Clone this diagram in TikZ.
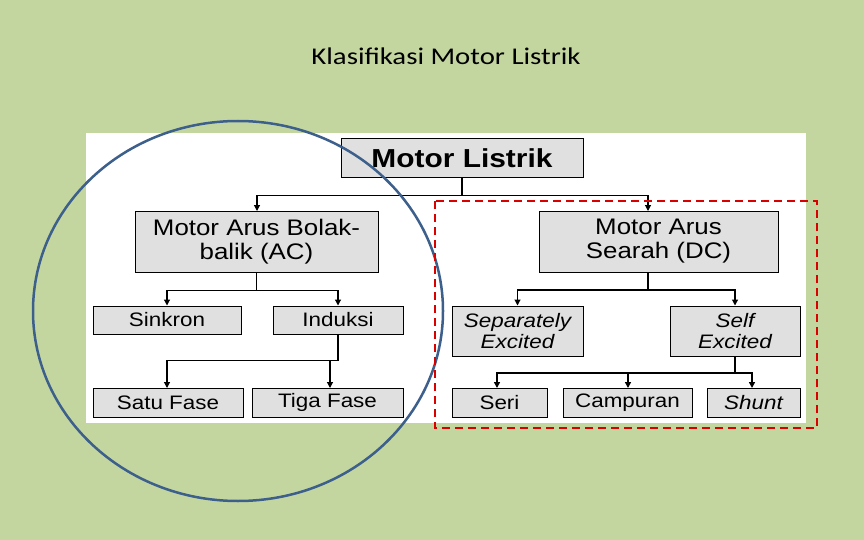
\documentclass[tikz,border=0pt]{standalone}
\usepackage{fontspec}
\setmainfont[FakeStretch=1.15]{Liberation Sans}
\newfontfamily\titlefont[FakeStretch=1.2]{Carlito}
\usetikzlibrary{arrows.meta}
\definecolor{bg}{RGB}{196,214,160}
\definecolor{boxg}{RGB}{224,224,224}
\definecolor{circ}{RGB}{60,95,140}
\tikzset{
 bx/.style={draw=black,fill=boxg,line width=1pt,inner sep=0pt,align=center},
 sm/.style={font=\fontsize{19.5}{22}\selectfont},
 md/.style={font=\fontsize{22.5}{24}\selectfont},
 ln/.style={line width=1.2pt},
 ar/.style={line width=1.2pt,-{Triangle[length=6pt,width=6pt]}}
}
\begin{document}
\begin{tikzpicture}[x=1pt,y=-1pt]
\useasboundingbox (0,0) rectangle (864,540);
\fill[bg] (0,0) rectangle (864,540);
\fill[white] (86,133) rectangle (806,423);
\node[font=\titlefont\fontsize{24}{28}\selectfont] (t) at (446,56) {Klasifikasi Motor Listrik};
\node[bx,minimum width=242pt,minimum height=39pt,font=\fontsize{26}{30}\selectfont\bfseries] (ml) at (462,158.5) {Motor Listrik};
\node[bx,md,minimum width=243pt,minimum height=61pt] (ac) at (256.5,241.5) {Motor Arus Bolak-\\balik (AC)};
\node[bx,md,minimum width=239pt,minimum height=61pt] (dc) at (658.5,241.5) {Motor Arus\\Searah (DC)};
\node[bx,sm,minimum width=148pt,minimum height=28pt] (sk) at (167,320) {Sinkron};
\node[bx,sm,minimum width=130pt,minimum height=28pt] (ind) at (338,320) {Induksi};
\node[bx,sm,minimum width=150pt,minimum height=29pt] (sf) at (168,402.5) {Satu Fase};
\node[bx,sm,minimum width=151pt,minimum height=29pt] (tf) at (327.5,402.5) {Tiga Fase};
\node[bx,sm,minimum width=131pt,minimum height=50pt,font=\fontsize{19.5}{21}\selectfont\itshape] (se) at (517.5,331) {Separately\\Excited};
\node[bx,sm,minimum width=130pt,minimum height=50pt,font=\fontsize{19.5}{21}\selectfont\itshape] (sx) at (735,331) {Self\\Excited};
\node[bx,sm,minimum width=95pt,minimum height=29pt] (sr) at (499.5,402.5) {Seri};
\node[bx,sm,minimum width=129pt,minimum height=29pt] (cp) at (627.5,402.5) {Campuran};
\node[bx,sm,minimum width=93pt,minimum height=29pt,font=\fontsize{19.5}{22}\selectfont\itshape] (sh) at (753.5,402.5) {Shunt};
% connectors
\draw[ln] (ml.south) -- ++(0,17) coordinate (j1);
\draw[ar] (j1) -| (257,211);
\draw[ar] (j1) -| (648,211);
\draw[ln] (ac.south) -- ++(0,18) coordinate (j2);
\draw[ar] (j2) -| (sk.north);
\draw[ar] (j2) -| (ind.north);
\draw[ln] (ind.south) -- ++(0,26) coordinate (j3);
\draw[ar] (j3) -| (167,388);
\draw[ar] (j3) -| (330,388);
\draw[ln] (648,272) -- (648,290) coordinate (j4);
\draw[ar] (j4) -| (se.north);
\draw[ar] (j4) -| (sx.north);
\draw[line width=2pt] (sx.south) -- ++(0,16) coordinate (j5);
\draw[ar,line width=2pt] (j5) -| (497,388);
\draw[ar,line width=2pt] (628,372) -- (628,388);
\draw[ar,line width=2pt] (j5) -| (752,388);
\draw[circ,line width=2.5pt] (238,311) ellipse [x radius=205, y radius=190];
\draw[red!85!black,line width=2.5pt,dashed,dash pattern=on 8pt off 5pt] (435,201) rectangle (817,428);
\end{tikzpicture}
\end{document}
